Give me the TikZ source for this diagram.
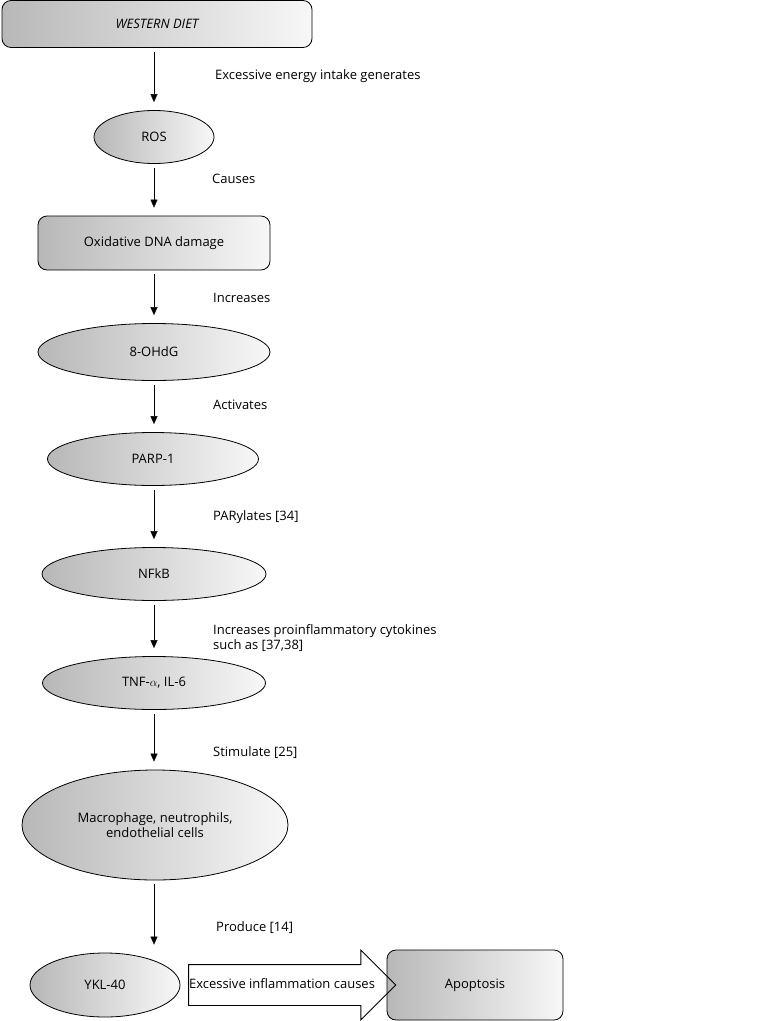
\documentclass[tikz,border=0pt]{standalone}
\usepackage{fontspec}
\setmainfont{Open Sans}
\usetikzlibrary{arrows.meta, shapes.geometric, shapes.arrows, calc}

\tikzset{
  shade box/.style={draw, thick, left color=black!28, right color=black!3, font=\fontsize{13}{15.5}\selectfont},
  stepbox/.style={shade box, rounded corners=9pt, inner sep=0pt},
  stepoval/.style={shade box, ellipse, inner sep=0pt, align=center},
  flow/.style={draw, arrows={-Triangle[width=7pt, length=8pt]}, shorten <=4pt, shorten >=8pt},
  cause/.style={anchor=west, align=left, font=\fontsize{13}{15.5}\selectfont, inner sep=0pt}
}

\begin{document}
\begin{tikzpicture}[x=1pt, y=-1pt]
    \useasboundingbox (0, 0) rectangle (768, 1021);
    \node [stepbox, minimum width=310pt, minimum height=47pt] (diet) at (157, 24) {\itshape WESTERN DIET};
    \node [stepoval, minimum width=120pt, minimum height=53pt] (ros) at (154, 137) {ROS};
    \node [stepbox, minimum width=232pt, minimum height=54pt] (dna) at (154, 243) {Oxidative DNA damage};
    \node [stepoval, minimum width=232pt, minimum height=57pt] (ohdg) at (154, 352) {8-OHdG};
    \node [stepoval, minimum width=211pt, minimum height=53pt] (parp) at (153, 459) {PARP-1};
    \node [stepoval, minimum width=224pt, minimum height=53pt] (nfkb) at (154, 574) {NFkB};
    \node [stepoval, minimum width=223pt, minimum height=53pt] (tnf) at (154, 683) {TNF-$\alpha$, IL-6};
    \node [stepoval, minimum width=266pt, minimum height=110pt] (macro) at (155, 825) {Macrophage, neutrophils,\\ endothelial cells};
    \node [stepoval, minimum width=150pt, minimum height=64pt] (ykl) at (105, 985) {YKL-40};
    \node [stepbox, minimum width=176pt, minimum height=70pt] (apop) at (475, 985) {Apoptosis};
    \node [draw, thick, single arrow, minimum height=199pt, single arrow head extend=14.5pt,
           single arrow tip angle=90, inner xsep=0pt, inner ysep=14pt, text height=9pt, text depth=3pt,
           font=\fontsize{13}{15.5}\selectfont] (inflam) at (282, 985) {Excessive inflammation causes};

    % connectors
    \draw [flow] (diet.south -| ros.north) -- (ros.north);
    \draw [flow] (ros) -- (dna);
    \draw [flow] (dna) -- (ohdg);
    \draw [flow] (ohdg) -- (parp.north -| ohdg.south);
    \draw [flow] (parp.south -| nfkb.north) -- (nfkb);
    \draw [flow] (nfkb) -- (tnf);
    \draw [flow] (tnf) -- (macro.north -| tnf.south);
    \draw [flow] (macro.south -| tnf.south) -- (ykl.north -| tnf.south);

    % labels
    \node [cause] (l1) at (215, 76) {Excessive energy intake generates};
    \node [cause] (l2) at (212, 179) {Causes};
    \node [cause] (l3) at (213, 298) {Increases};
    \node [cause] (l4) at (213, 405) {Activates};
    \node [cause] (l5) at (213, 517) {PARylates [34]};
    \node [cause] (l6) at (213, 638) {Increases proinflammatory cytokines\\ such as [37,38]};
    \node [cause] (l7) at (213, 753) {Stimulate [25]};
    \node [cause] (l8) at (216, 928) {Produce [14]};
\end{tikzpicture}
\end{document}
